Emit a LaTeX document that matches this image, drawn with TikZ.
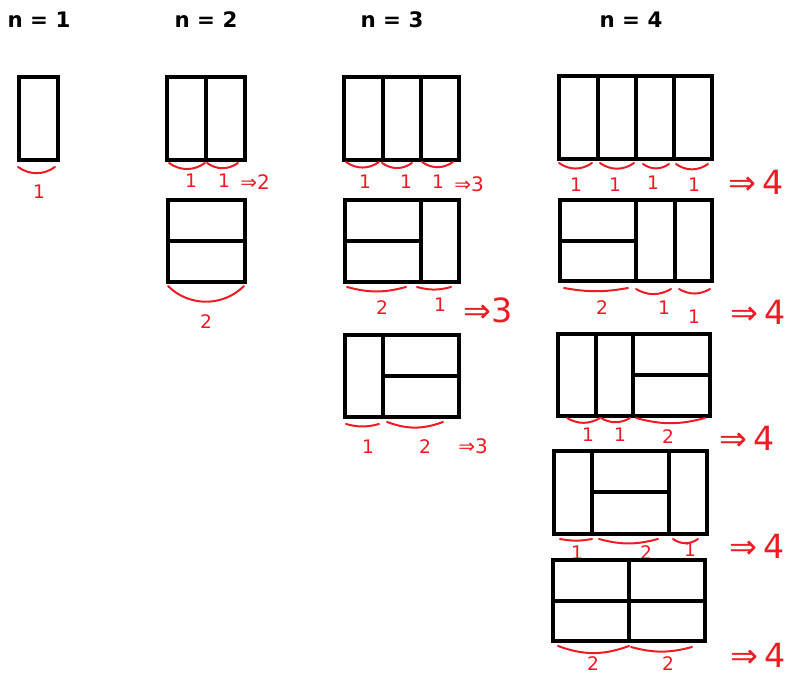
\documentclass[tikz,border=0pt]{standalone}
\usepackage{fontspec}
\setmainfont{DejaVu Sans}
\definecolor{stylo}{RGB}{237,28,36}
\begin{document}
\begin{tikzpicture}[x=0.75pt,y=-0.75pt]
\tikzset{bloc/.style={line width=2.6pt},
  trait/.style={line width=3.2pt},
  titre/.style={font=\fontsize{16}{16}\selectfont\bfseries},
  accol/.style={stylo, line width=1.5pt, line cap=round, bend right=#1},
  accol/.default=35,
  chiffre/.style={stylo, font=\fontsize{14}{14}\selectfont, inner sep=0pt},
  petit/.style={stylo, font=\fontsize{15}{15}\selectfont, inner sep=0pt},
  grand/.style={stylo, font=\fontsize{25}{25}\selectfont, inner sep=0pt}}
\useasboundingbox (0,0) rectangle (796,677);
\node[titre] (T1) at (39,20) {n = 1};
\node[titre] (T2) at (206,20) {n = 2};
\node[titre] (T3) at (392,20) {n = 3};
\node[titre] (T4) at (631,20) {n = 4};
\draw[bloc] (19,77) rectangle (58,160);
\draw[accol] (18,167) to (55,167);
\node[chiffre] (A1) at (39,192) {1};
\draw[bloc] (167,77) rectangle (245,160);
\draw[bloc] (206,77) -- (206,160);
\draw[accol] (169,163) to (205,163);
\draw[accol] (207,163) to (238,163);
\node[chiffre] (B1) at (191,181) {1};
\node[chiffre] (B2) at (224,181) {1};
\node[petit] (B3) at (255,182) {⇒2};
\draw[bloc] (168,200) rectangle (245,282);
\draw[trait] (168,241) -- (245,241);
\draw[accol=45] (168,286) to (244,286);
\node[chiffre] (C1) at (206,322) {2};
\draw[bloc] (344,77) rectangle (459,160);
\draw[bloc] (383,77) -- (383,160);
\draw[bloc] (421,77) -- (421,160);
\draw[accol] (346,162) to (379,162);
\draw[accol] (382,163) to (412,163);
\draw[accol] (422,162) to (453,162);
\node[chiffre] (D1) at (365,182) {1};
\node[chiffre] (D2) at (406,182) {1};
\node[chiffre] (D3) at (438,182) {1};
\node[petit] (D4) at (469,184) {⇒3};
\draw[bloc] (345,200) rectangle (459,282);
\draw[bloc] (421,200) -- (421,282);
\draw[trait] (345,241) -- (421,241);
\draw[accol=15] (347,287) to (406,287);
\draw[accol=15] (417,287) to (451,287);
\node[chiffre] (E1) at (382,308) {2};
\node[chiffre] (E2) at (440,305) {1};
\node[grand] (E3) at (488,310) {⇒3};
\draw[bloc] (345,335) rectangle (459,417);
\draw[bloc] (383,335) -- (383,417);
\draw[trait] (383,376) -- (459,376);
\draw[accol=15] (346,424) to (379,424);
\draw[accol=20] (387,422) to (443,422);
\node[chiffre] (F1) at (368,447) {1};
\node[chiffre] (F2) at (425,447) {2};
\node[petit] (F3) at (473,446) {⇒3};
\draw[bloc] (559,76) rectangle (712,159);
\draw[bloc] (598,76) -- (598,159);
\draw[bloc] (636,76) -- (636,159);
\draw[bloc] (674,76) -- (674,159);
\draw[accol] (559,163) to (592,163);
\draw[accol] (600,163) to (634,163);
\draw[accol] (643,164) to (669,164);
\draw[accol] (676,164) to (708,164);
\node[chiffre] (G1) at (576,185) {1};
\node[chiffre] (G2) at (615,185) {1};
\node[chiffre] (G3) at (653,183) {1};
\node[chiffre] (G4) at (694,185) {1};
\node[grand] (G5) at (756,182) {⇒\,4};
\draw[bloc] (560,200) rectangle (712,281);
\draw[bloc] (636,200) -- (636,281);
\draw[bloc] (675,200) -- (675,281);
\draw[trait] (560,241) -- (636,241);
\draw[accol=10] (564,288) to (628,288);
\draw[accol=30] (636,289) to (671,289);
\draw[accol=30] (679,289) to (710,289);
\node[chiffre] (H1) at (602,308) {2};
\node[chiffre] (H2) at (664,308) {1};
\node[chiffre] (H3) at (694,317) {1};
\node[grand] (H4) at (758,312) {⇒\,4};
\draw[bloc] (558,334) rectangle (710,416);
\draw[bloc] (596,334) -- (596,416);
\draw[bloc] (633,334) -- (633,416);
\draw[trait] (633,375) -- (710,375);
\draw[accol=30] (567,418) to (600,418);
\draw[accol=30] (601,418) to (630,418);
\draw[accol=15] (636,418) to (705,418);
\node[chiffre] (I1) at (588,435) {1};
\node[chiffre] (I2) at (620,435) {1};
\node[chiffre] (I3) at (668,437) {2};
\node[grand] (I4) at (747,438) {⇒\,4};
\draw[bloc] (554,451) rectangle (707,534);
\draw[bloc] (592,451) -- (592,534);
\draw[bloc] (669,451) -- (669,534);
\draw[trait] (592,492) -- (669,492);
\draw[accol=10] (560,539) to (592,539);
\draw[accol=15] (599,539) to (658,539);
\draw[accol=35] (673,539) to (698,539);
\node[chiffre] (J1) at (577,553) {1};
\node[chiffre] (J2) at (646,553) {2};
\node[chiffre] (J3) at (690,550) {1};
\node[grand] (J4) at (757,546) {⇒\,4};
\draw[bloc] (553,560) rectangle (705,641);
\draw[bloc] (629,560) -- (629,641);
\draw[trait] (553,601) -- (705,601);
\draw[accol=20] (558,646) to (629,646);
\draw[accol=15] (631,647) to (692,647);
\node[chiffre] (K1) at (593,664) {2};
\node[chiffre] (K2) at (668,664) {2};
\node[grand] (K3) at (758,655) {⇒\,4};
\end{tikzpicture}
\end{document}
